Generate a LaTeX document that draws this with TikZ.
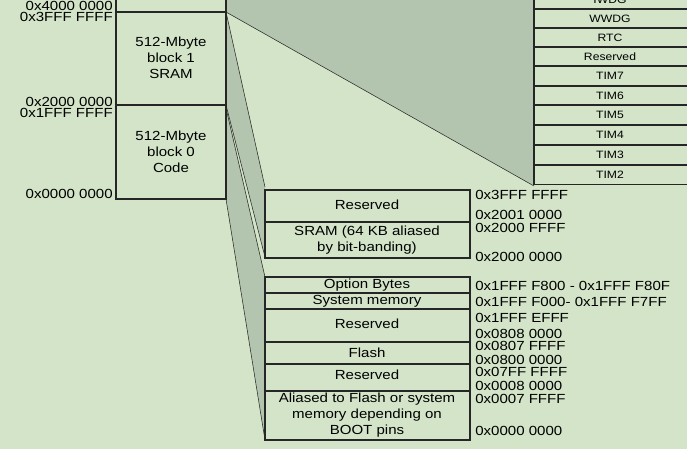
\documentclass[tikz,border=0pt]{standalone}
\usepackage{fontspec}
\setmainfont{Liberation Sans}[FakeStretch=1.14]
\definecolor{bgc}{HTML}{D3E4C8}
\definecolor{wedge}{HTML}{B3C5AE}
\tikzset{
  blk/.style={draw=black!85,line width=0.9pt},
  addr/.style={font=\fontsize{9.9}{10}\selectfont,inner sep=0pt},
  lbl/.style={font=\fontsize{9.9}{12}\selectfont,align=center,inner sep=0pt},
  tbl/.style={font=\fontsize{8}{9}\selectfont,inner sep=0pt}
}
\begin{document}
\begin{tikzpicture}[x=0.75pt,y=-0.75pt]
    \fill[bgc] (0,0) rectangle (687,449);
    \useasboundingbox (0,0) rectangle (687,449);
    % wedges
    \fill[wedge] (226,0)--(534,0)--(534,186)--(226,12)--cycle;
    \draw[black!85] (226,12)--(534,186);
    \fill[wedge] (226,12)--(265,187)--(265,257)--(226,105)--cycle;
    \draw[black!85] (226,12)--(265,187);
    \draw[black!85] (226,105)--(265,257);
    \fill[wedge] (226,108)--(265,277)--(265,440)--(226,199)--cycle;
    \draw[black!85] (226,108)--(265,277);
    \draw[black!85] (226,199)--(265,440);
    % main column
    \draw[blk] (116,-5)--(116,199)--(226,199)--(226,-5);
    \draw[blk] (116,12)--(226,12);
    \draw[blk] (116,105)--(226,105);
    \node[lbl] (b1) at (171,58) {512-Mbyte\\block 1\\SRAM};
    \node[lbl] (b0) at (171,152) {512-Mbyte\\block 0\\Code};
    \node[addr,anchor=east] at (113,6) {0x4000 0000};
    \node[addr,anchor=east] at (113,17) {0x3FFF FFFF};
    \node[addr,anchor=east] at (113,102) {0x2000 0000};
    \node[addr,anchor=east] at (113,113) {0x1FFF FFFF};
    \node[addr,anchor=east] at (113,194) {0x0000 0000};
    % peripheral table
    \foreach \t/\y in {IWDG/-10,WWDG/9,RTC/28,Reserved/47,TIM7/66,TIM6/86,TIM5/105,TIM4/125,TIM3/145,TIM2/165}
    {
        \draw[blk] (534,\y) rectangle (700,\y+19.7);
        \node[tbl] at (610,\y+10) {\t};
    }
    % SRAM region
    \draw[blk] (265,190) rectangle (470,222);
    \draw[blk] (265,222) rectangle (470,258);
    \node[lbl] (sres) at (367,205) {Reserved};
    \node[lbl] (sram) at (367,240) {SRAM (64 KB aliased\\by bit-banding)};
    % code region
    \foreach \a/\b/\t/\c in {277/293/Option Bytes/285,293/309/System memory/301,309/342/Reserved/324,342/364/Flash/353,364/391/Reserved/375}
    {
        \draw[blk] (265,\a) rectangle (470,\b);
        \node[lbl] at (367,\c) {\t};
    }
    \draw[blk] (265,391) rectangle (470,440);
    \node[lbl] (alias) at (367,415) {Aliased to Flash or system\\memory depending on\\BOOT pins};
    \foreach \t/\y in {0x3FFF FFFF/195,0x2001 0000/215,0x2000 FFFF/228,0x2000 0000/257,
        0x1FFF F800 - 0x1FFF F80F/286,0x1FFF F000- 0x1FFF F7FF/302,0x1FFF EFFF/318,
        0x0808 0000/334,0x0807 FFFF/346,0x0800 0000/360,0x07FF FFFF/372,
        0x0008 0000/386,0x0007 FFFF/399,0x0000 0000/431}
    {
        \node[addr,anchor=west] at (475,\y) {\t};
    }
\end{tikzpicture}
\end{document}
